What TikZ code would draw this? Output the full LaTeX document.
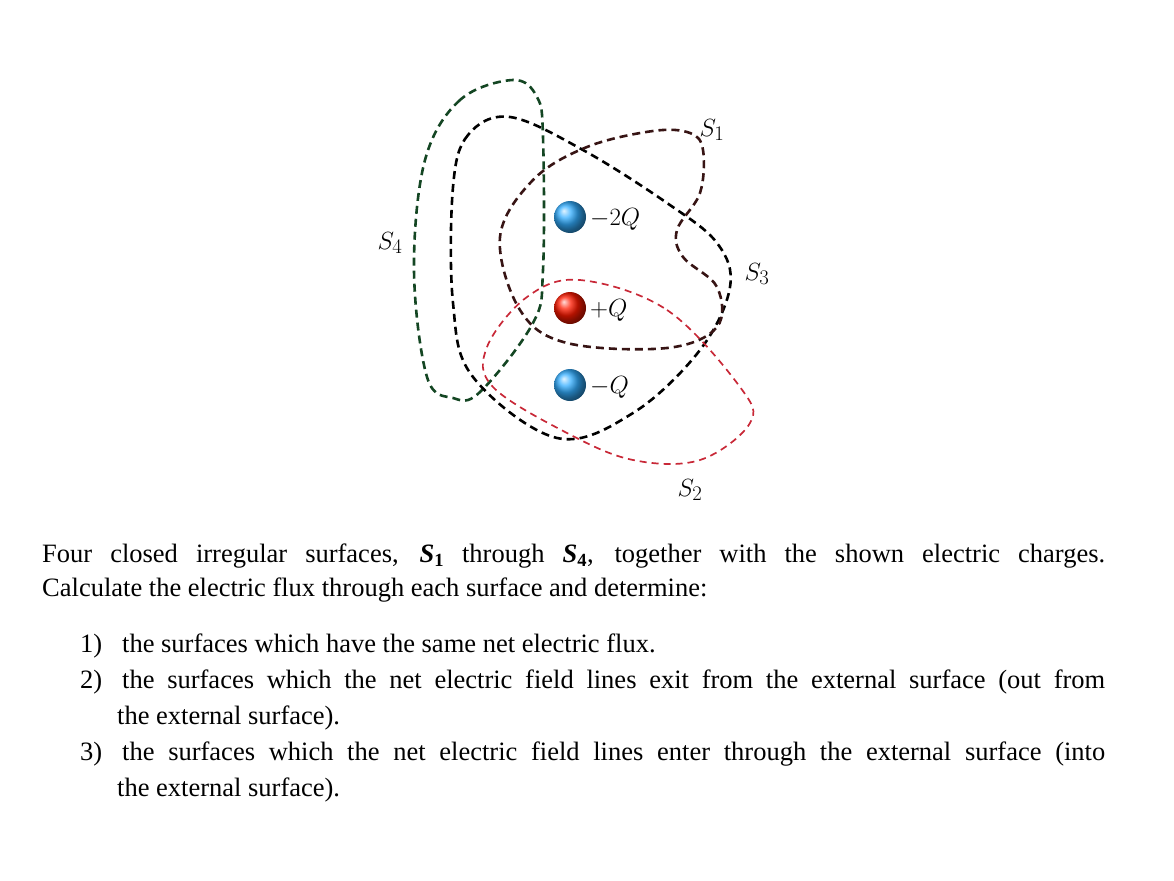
\documentclass[tikz,border=0pt]{standalone}
\usepackage{fontspec}
\setmainfont{Liberation Serif}
\usepackage{amsmath}
\tikzset{
 surf/.style={line width=2.6pt, dash pattern=on 8pt off 5pt, line cap=butt},
 lbl/.style={font=\fontsize{31}{31}\selectfont, inner sep=0pt},
 chg/.style={circle, minimum size=32pt, inner sep=0pt},
 chl/.style={font=\fontsize{31}{31}\selectfont, inner sep=0pt, anchor=west}
}
\begin{document}
\begin{tikzpicture}[x=1pt,y=-1pt]
\useasboundingbox (0,0) rectangle (1174,880);
% S4 green
\draw[surf, color={rgb,255:red,20;green,70;blue,35}] plot[smooth cycle, tension=0.6] coordinates {(513,80) (460,100) (425,160) (414,270) (427,377) (453,398) (480,392) (533,323) (543,270) (543,137) (537,97)};
% S3 black
\draw[surf, black] plot[smooth cycle, tension=0.6] coordinates {(510,117) (468,135) (453,187) (453,303) (473,377) (557,438) (633,413) (700,350) (730,287) (717,243) (667,203) (583,150)};
% S1 maroon
\draw[surf, color={rgb,255:red,55;green,20;blue,20}] plot[smooth cycle, tension=0.6] coordinates {(690,133) (653,131) (587,147) (533,180) (500,237) (520,310) (567,343) (667,348) (717,327) (717,287) (683,257) (677,230) (700,193) (703,150)};
% S2 red
\draw[line width=1.7pt, dash pattern=on 7pt off 5pt, color={rgb,255:red,200;green,40;blue,55}] plot[smooth cycle, tension=0.6] coordinates {(580,280) (667,310) (740,387) (750,423) (700,460) (633,460) (567,433) (493,387) (487,347) (527,297)};
% charges
\node[chg, ball color=cyan!60!blue!80!white] (c1) at (570,217) {};
\node[chg, ball color=red!80!orange] (c2) at (570,308) {};
\node[chg, ball color=cyan!60!blue!80!white] (c3) at (570,385) {};
\node[chl] (l1) at (590,219) {$-2Q$};
\node[chl] (l2) at (590,310) {$+Q$};
\node[chl] (l3) at (590,387) {$-Q$};
\node[lbl] (s1) at (712,130) {$S_1$};
\node[lbl] (s3) at (757,274) {$S_3$};
\node[lbl] (s2) at (690,490) {$S_2$};
\node[lbl] (s4) at (390,243) {$S_4$};
% text
\node[anchor=north west, inner sep=0pt, text width=1063pt, align=justify, font=\fontsize{26.5}{34}\selectfont] (txt) at (42,544) {%
Four closed irregular surfaces, \textbf{\textit{S}}$_{\mathbf 1}$ through \textbf{\textit{S}}$_{\mathbf 4}$, together with the shown electric charges.\linebreak Calculate the electric flux through each surface and determine:\par
\vspace{20pt}
\baselineskip=36pt
\hangindent=75pt\hangafter=1\noindent\hspace{38pt}\makebox[42pt][l]{1)}the surfaces which have the same net electric flux.\par
\hangindent=75pt\hangafter=1\noindent\hspace{38pt}\makebox[42pt][l]{2)}the surfaces which the net electric field lines exit from the external surface (out from\linebreak the external surface).\par
\hangindent=75pt\hangafter=1\noindent\hspace{38pt}\makebox[42pt][l]{3)}the surfaces which the net electric field lines enter through the external surface (into\linebreak the external surface).\par};
\end{tikzpicture}
\end{document}
